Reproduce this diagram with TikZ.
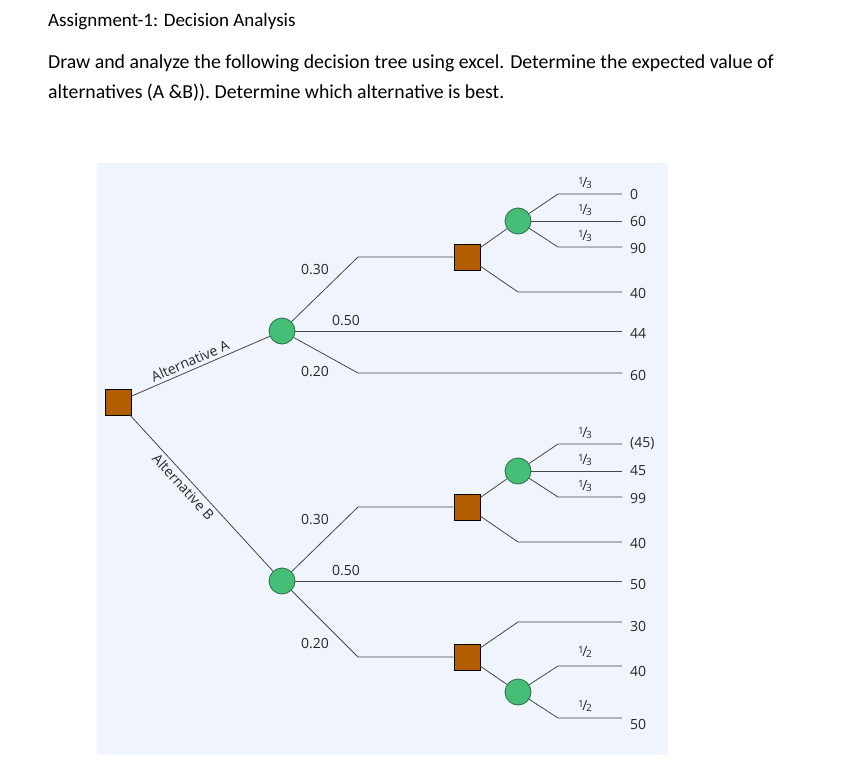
\documentclass[tikz,border=0pt]{standalone}
\usepackage{fontspec}
\setmainfont{Carlito}
\newfontfamily\dfont{Open Sans}
\definecolor{bgc}{RGB}{240,244,252}
\definecolor{decc}{RGB}{178,94,0}
\definecolor{chnf}{RGB}{70,190,120}
\definecolor{chnd}{RGB}{40,110,70}
\definecolor{brc}{RGB}{70,70,70}
\definecolor{labc}{RGB}{40,40,40}
\newcommand{\myfr}[2]{\raisebox{0.4ex}{\fontsize{10}{11}\selectfont #1}\hspace{-0.1em}/\hspace{-0.1em}\raisebox{-0.2ex}{\fontsize{10}{11}\selectfont #2}}
\begin{document}
\begin{tikzpicture}[x=1pt,y=-1pt,
  dec/.style={draw=black,fill=decc,minimum size=26pt,inner sep=0,line width=0.8pt},
  chn/.style={draw=chnd,fill=chnf,circle,minimum size=26pt,inner sep=0,line width=0.8pt},
  br/.style={draw=brc,line width=0.8pt},
  lab/.style={font=\dfont\fontsize{14}{16}\selectfont,text=labc},
  val/.style={lab,anchor=west,inner sep=0}]
\useasboundingbox (0,0) rectangle (868,760);
\fill[bgc] (97,163) rectangle (668,755);
\node[anchor=west,inner sep=0,font=\fontsize{19}{22}\selectfont] (t) at (48,22) {Assignment-1: Decision Analysis};
\node[anchor=west,inner sep=0,font=\fontsize{19.8}{23}\selectfont] (b1) at (48,63) {Draw and analyze the following decision tree using excel. Determine the expected value of};
\node[anchor=west,inner sep=0,font=\fontsize{19.8}{23}\selectfont] (b2) at (48,93) {alternatives (A \&B)). Determine which alternative is best.};

\node[dec] (r) at (118,402) {};
\node[chn] (xa) at (282,331) {};
\node[chn] (xb) at (282,581) {};
\draw[br] (r) -- node[lab,sloped,above,pos=0.45]{Alternative A} (xa);
\draw[br] (r) -- node[lab,sloped,below,pos=0.42]{Alternative B} (xb);

\foreach \o/\n in {0/a,250/b}{
  \coordinate (k1\n) at (358,257+\o);
  \coordinate (e2\n) at (622,331+\o);
  \node[lab] (l1\n) at (315,270+\o) {0.30};
  \node[lab] (l2\n) at (346,321+\o) {0.50};
  \node[dec] (d\n) at (467,257+\o) {};
  \node[chn] (c\n) at (518,221+\o) {};
  \coordinate (p1\n) at (558,194+\o); \coordinate (q1\n) at (622,194+\o);
  \coordinate (q2\n) at (622,221+\o);
  \coordinate (p3\n) at (558,247+\o); \coordinate (q3\n) at (622,247+\o);
  \coordinate (p4\n) at (518,292+\o); \coordinate (q4\n) at (622,292+\o);
  \coordinate (k3\n) at (358,373+\o);
  \draw[br] (c\n) -- (q2\n);
  \draw[br] (d\n) -- (c\n);
  \draw[br] (d\n) -- (p4\n) -- (q4\n);
  \draw[br] (c\n) -- (p1\n) -- (q1\n);
  \draw[br] (c\n) -- (p3\n) -- (q3\n);
  \draw[br] (x\n) -- (k1\n) -- (d\n);
  \draw[br] (x\n) -- (e2\n);
  \node[lab] (f1\n) at (585,183+\o) {\myfr13};
  \node[lab] (f2\n) at (585,210+\o) {\myfr13};
  \node[lab] (f3\n) at (585,236+\o) {\myfr13};
}
\node[lab] (l3a) at (315,372) {0.20};
\node[lab] (l3b) at (315,644) {0.20};
\draw[br] (xa) -- (k3a) -- (622,373);

% A values
\node[val] at (630,194) {0};
\node[val] at (630,221) {60};
\node[val] at (630,248) {90};
\node[val] at (630,293) {40};
\node[val] at (630,333) {44};
\node[val] at (630,375) {60};
% B values
\node[val] at (630,444) {(45)};
\node[val] at (630,471) {45};
\node[val] at (630,498) {99};
\node[val] at (630,543) {40};
\node[val] at (630,584) {50};

% B 0.20 branch
\node[dec] (dc) at (467,657) {};
\node[chn] (cc) at (518,692) {};
\draw[br] (xb) -- (358,657) -- (dc);
\draw[br] (dc) -- (518,622) -- (622,622);
\draw[br] (dc) -- (cc);
\draw[br] (cc) -- (558,666) -- (622,666);
\draw[br] (cc) -- (558,718) -- (622,718);
\node[lab] at (585,652) {\myfr12};
\node[lab] at (585,706) {\myfr12};
\node[val] at (630,626) {30};
\node[val] at (630,671) {40};
\node[val] at (630,724) {50};
\end{tikzpicture}
\end{document}
